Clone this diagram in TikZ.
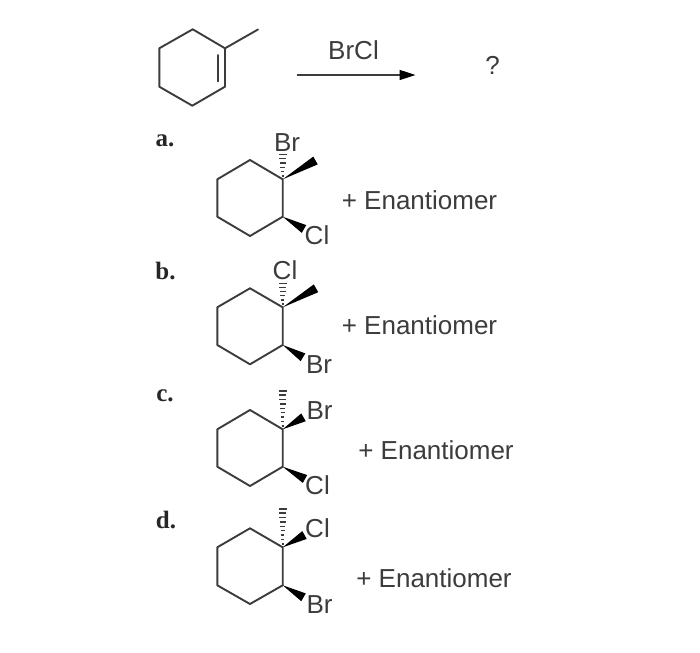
\documentclass[tikz,border=0pt]{standalone}
\usepackage{fontspec}
\setmainfont{Liberation Sans}
\newfontfamily\labelserif{Liberation Serif}
\usetikzlibrary{calc,arrows.meta}
\definecolor{ink}{HTML}{3C3C3C}
\tikzset{
  bond/.style={draw=ink,line width=1.9pt,line join=round,line cap=round},
  chem/.style={inner sep=0pt,text=ink,font=\fontsize{26}{28}\selectfont},
  plain/.style={inner sep=0pt,text=ink,font=\fontsize{26}{28}\selectfont},
  optlabel/.style={inner sep=0pt,text=black!85,font=\labelserif\bfseries\fontsize{25}{28}\selectfont},
}
% wedge from atom #1 to point #2
\newcommand{\wedgebond}[2]{%
  \fill[black] (#1) -- ($(#2)!4.5pt!90:(#1)$) -- ($(#2)!4.5pt!-90:(#1)$) -- cycle;}
% hashed bond from atom #1 upward to point #2, #3 strokes
\newcommand{\hashbond}[3]{%
  \foreach \t in {1,...,#3}{%
    \pgfmathsetmacro{\hf}{(\t-0.2)/#3}%
    \pgfmathsetmacro{\hw}{0.7+3.4*\hf}%
    \draw[ink,line width=1.5pt] ($(#1)!\hf!(#2)+(-\hw pt,0)$) -- ($(#1)!\hf!(#2)+(\hw pt,0)$);}}
% cyclohexane ring; the vertices are #1t, #1tr, #1br, #1b, #1bl, #1tl
\newcommand{\ringat}[7]{%
  \coordinate (#1t) at (250,#2);
  \coordinate (#1tr) at (282.7,#3);
  \coordinate (#1br) at (282.7,#4);
  \coordinate (#1b) at (250,#5);
  \coordinate (#1bl) at (217.3,#6);
  \coordinate (#1tl) at (217.3,#7);
  \draw[bond] (#1t) -- (#1tr) -- (#1br) -- (#1b) -- (#1bl) -- (#1tl) -- cycle;}
\begin{document}
\begin{tikzpicture}[x=1pt,y=-1pt]
\useasboundingbox[fill=white] (0,0) rectangle (700,652);
% starting alkene
\coordinate (s1) at (192.7,29.3);
\coordinate (s2) at (225,48.3);
\coordinate (s3) at (225,86.7);
\coordinate (s4) at (192.3,105.7);
\coordinate (s5) at (159.3,86.7);
\coordinate (s6) at (159.3,48.3);
\coordinate (sme) at (258,29.5);
\coordinate (d1) at (217.7,55);
\coordinate (d2) at (217.7,81.5);
\draw[bond] (s1) -- (s2) -- (s3) -- (s4) -- (s5) -- (s6) -- cycle;
\draw[bond] (s2) -- (sme);
\draw[bond] (d1) -- (d2);
% arrow
\coordinate (arA) at (296.7,75);
\coordinate (arB) at (415.5,75);
\draw[ink,line width=1.6pt,-{Triangle[length=16pt,width=10pt,black]}] (arA) -- (arB);
\node[plain] (reagent) at (353.5,50) {BrCl};
\node[plain] (query) at (492.5,65.5) {?};
% a
\node[optlabel] (la) at (165,140.5) {a.};
\ringat{a}{160}{179.3}{216.7}{236}{216.7}{179.3}
\coordinate (ameth) at (315.5,160.5);
\coordinate (ahash) at (282.7,153.5);
\coordinate (aclw) at (304,229);
\wedgebond{atr}{ameth}
\hashbond{atr}{ahash}{6}
\wedgebond{abr}{aclw}
\node[chem] (aBr) at (287,143) {Br};
\node[chem] (aCl) at (317,235.5) {Cl};
\node[plain] (ea) at (419.5,200) {+ Enantiomer};
% b
\node[optlabel] (lb) at (165.5,271.5) {b.};
\ringat{b}{288.3}{307.3}{345}{364.3}{345}{307.3}
\coordinate (bmeth) at (316,288.3);
\coordinate (bhash) at (282.7,282.5);
\coordinate (bbrw) at (303,357.3);
\wedgebond{btr}{bmeth}
\hashbond{btr}{bhash}{6}
\wedgebond{bbr}{bbrw}
\node[chem] (bCl) at (285,270.5) {Cl};
\node[chem] (bBr) at (319,365) {Br};
\node[plain] (eb) at (419.5,325) {+ Enantiomer};
% c
\node[optlabel] (lc) at (165,396) {c.};
\ringat{c}{410}{429.3}{466.7}{486}{466.7}{429.3}
\coordinate (chash) at (282.7,390);
\coordinate (cbrw) at (303.5,417.3);
\coordinate (cclw) at (305,479);
\hashbond{ctr}{chash}{9}
\wedgebond{ctr}{cbrw}
\wedgebond{cbr}{cclw}
\node[chem] (cBr) at (319.5,410.5) {Br};
\node[chem] (cCl) at (317.5,485) {Cl};
\node[plain] (ec) at (436,450) {+ Enantiomer};
% d
\node[optlabel] (ld) at (166,519.5) {d.};
\ringat{d}{528.3}{547.3}{585.3}{604}{585.3}{547.3}
\coordinate (dhash) at (282.7,508);
\coordinate (dclw) at (304.5,535);
\coordinate (dbrw) at (303.5,597.3);
\hashbond{dtr}{dhash}{9}
\wedgebond{dtr}{dclw}
\wedgebond{dbr}{dbrw}
\node[chem] (dCl) at (317.5,528.5) {Cl};
\node[chem] (dBr) at (319.5,605) {Br};
\node[plain] (ed) at (434,578) {+ Enantiomer};
\end{tikzpicture}
\end{document}
